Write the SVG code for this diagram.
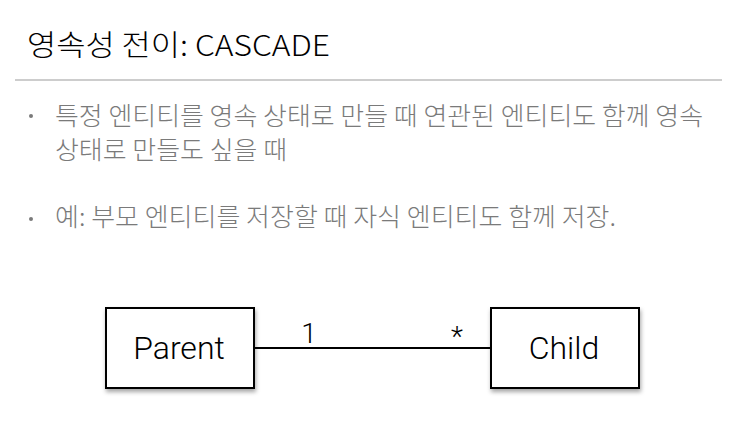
<svg xmlns="http://www.w3.org/2000/svg" width="743" height="429" viewBox="0 0 743 429">
<defs>
<style>
.kr{font-family:"Noto Sans CJK KR","Liberation Sans",sans-serif;font-weight:300;}
.title{font-size:29px;fill:#000;}
.body{font-size:25px;fill:#7a7a7a;}
.box{fill:#fff;stroke:#000;stroke-width:2;}
.lbl{font-family:Roboto,"Liberation Sans",sans-serif;font-weight:300;font-size:32px;fill:#000;}
.mult{font-family:Roboto,"Liberation Sans",sans-serif;font-weight:300;font-size:28px;fill:#000;}
</style>
<filter id="sh" x="-10%" y="-10%" width="130%" height="140%">
<feDropShadow dx="1" dy="3" stdDeviation="2" flood-color="#000" flood-opacity="0.35"/>
</filter>
</defs>
<rect width="743" height="429" fill="#fff"/>
<text class="kr title" x="27" y="56" textLength="303" lengthAdjust="spacingAndGlyphs">영속성 전이: CASCADE</text>
<line x1="15" y1="80" x2="722" y2="80" stroke="#bdbdbd" stroke-width="1.5"/>
<circle cx="31" cy="116" r="2" fill="#7a7a7a"/>
<text class="kr body" x="55" y="125" textLength="648" lengthAdjust="spacingAndGlyphs">특정 엔티티를 영속 상태로 만들 때 연관된 엔티티도 함께 영속</text>
<text class="kr body" x="55" y="159" textLength="232" lengthAdjust="spacingAndGlyphs">상태로 만들도 싶을 때</text>
<circle cx="31" cy="219" r="2" fill="#7a7a7a"/>
<text class="kr body" x="55" y="226" textLength="561" lengthAdjust="spacingAndGlyphs">예: 부모 엔티티를 저장할 때 자식 엔티티도 함께 저장.</text>
<g id="connectors">
<line x1="254" y1="348" x2="490" y2="348" stroke="#000" stroke-width="1.8"/>
<text class="mult" x="309" y="343" text-anchor="middle">1</text>
<text class="mult" x="457" y="346" text-anchor="middle">*</text>
</g>
<g id="parent">
<rect class="box" x="106" y="308" width="148" height="80" filter="url(#sh)"/>
<text class="lbl" x="179" y="359" text-anchor="middle">Parent</text>
</g>
<g id="child">
<rect class="box" x="491" y="308" width="148" height="80" filter="url(#sh)"/>
<text class="lbl" x="564" y="359" text-anchor="middle">Child</text>
</g>
</svg>
